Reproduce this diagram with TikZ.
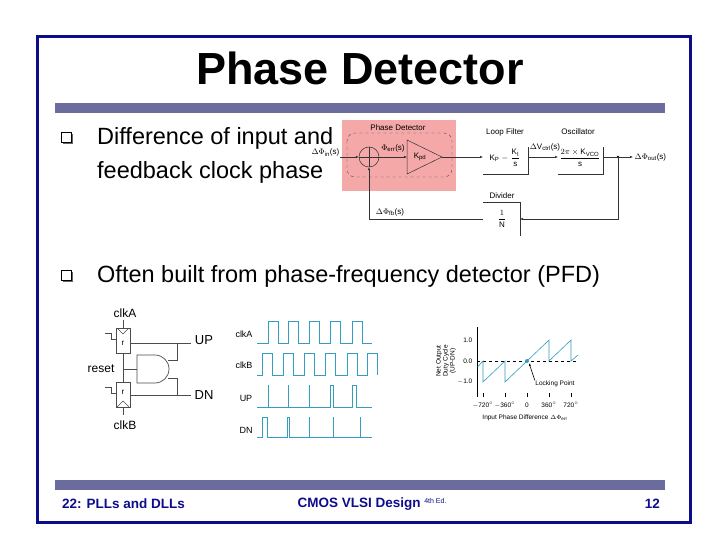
\documentclass[tikz,border=0pt]{standalone}
\usepackage{amsmath}
\usepackage{fontspec}
\setmainfont{Liberation Sans}
\usetikzlibrary{arrows.meta}
\definecolor{navy}{rgb}{0.05,0.05,0.55}
\definecolor{wave}{rgb}{0.2,0.62,0.75}
\definecolor{pinkbg}{rgb}{0.96,0.66,0.66}
\definecolor{barc}{rgb}{0.42,0.42,0.62}
\begin{document}
\begin{tikzpicture}[x=1pt,y=-1pt,
  tiny/.style={font=\fontsize{8}{9}\selectfont,inner sep=0.5pt},
  gtiny/.style={font=\fontsize{6.5}{7}\selectfont,inner sep=0.5pt},
  bl/.style={draw=black!80,line width=0.5pt},
  arr/.style={bl,-{Latex[length=3pt,width=2.5pt]}},
  wv/.style={wave,line width=0.7pt},
  ckt/.style={draw=black!70,line width=0.7pt},
  lbl/.style={font=\fontsize{12}{13}\selectfont,inner sep=0.5pt},
  wl/.style={font=\fontsize{9}{10}\selectfont,inner sep=0.5pt},
  bul/.style={font=\fontsize{23.5}{26}\selectfont,anchor=west,inner sep=0pt},
  foot/.style={font=\fontsize{13.5}{15}\selectfont\bfseries,text=navy,inner sep=0pt}]
\useasboundingbox (0,0) rectangle (720,540);
\fill[white] (0,0) rectangle (720,540);
\draw[navy,line width=3pt] (37,37) rectangle (690,522);
% title
\node[font=\fontsize{45}{48}\selectfont\bfseries] (title) at (360,68) {Phase Detector};
\fill[barc] (55,103) rectangle (665,113);
\fill[barc] (55,480) rectangle (665,490);
% bullets
\foreach \yy/\nm in {138/b1,276/b2}{
  \fill[black!60] (63,\yy-4) rectangle (73,\yy+6);
  \fill[white] (61,\yy-6) rectangle (71,\yy+4);
  \draw[black,line width=0.6pt] (61,\yy-6) rectangle (71,\yy+4);
}
\node[bul] (t1) at (97,138) {Difference of input and};
\node[bul] (t1b) at (97,172) {feedback clock phase};
\node[bul] (t2) at (97,276) {Often built from phase-frequency detector (PFD)};
% PLL block diagram
\fill[pinkbg] (342,120) rectangle (456,191);
\node[tiny] (pdt) at (398,128) {Phase Detector};
\draw[black!70,dashed,rounded corners=8pt,line width=0.4pt] (347,133) rectangle (452,177);
\node[bl,circle,minimum size=20pt,inner sep=0pt] (sum) at (369,157) {};
\draw[bl] (sum.north) -- (sum.south) (sum.west) -- (sum.east);
\coordinate (pdin) at (340,157);
\node[tiny,anchor=south east] (inl) at (340,157) {$\Delta\Phi_{\mathrm{in}}$(s)};
\draw[arr] (pdin) -- (sum.west);
\coordinate (tl) at (407,140); \coordinate (tb) at (407,174); \coordinate (tip) at (442,157);
\draw[bl] (tl) -- (tip) -- (tb) -- cycle;
\node[tiny] (kpd) at (420,157) {K$_{\mathrm{pd}}$};
\draw[arr] (sum.east) -- (407,157);
\node[tiny] (err) at (393,148) {$\Phi_{\mathrm{err}}$(s)};
\node[tiny] (lft) at (505,132) {Loop Filter};
\coordinate (lf) at (483,157);
\draw[bl] (483,174) -- (528,174) -- (528,147);
\node[tiny] (lfc) at (505,158) {K$_{\mathrm P}$ $-$ $\dfrac{\mathrm K_{\mathrm I}}{\mathrm s}$};
\draw[arr] (tip) -- (lf);
\node[tiny] (vc) at (545,147) {$\Delta$V$_{\mathrm{ctrl}}$(s)};
\node[tiny] (osct) at (578,132) {Oscillator};
\draw[bl] (558,174) -- (603,174) -- (603,147);
\node[tiny] (oscc) at (580,158) {$\dfrac{2\pi\times \mathrm K_{\mathrm{VCO}}}{\mathrm s}$};
\draw[arr] (528,157) -- (558,157);
\coordinate (dot) at (618,157);
\fill (dot) circle (1.3pt);
\draw[arr] (603,157) -- (633,157);
\node[tiny,anchor=west] (outl) at (634,157) {$\Delta\Phi_{\mathrm{out}}$(s)};
\node[tiny] (divt) at (502,196) {Divider};
\draw[bl] (483,202) -- (520,202) -- (520,236);
\node[tiny] (divc) at (502,219) {$\dfrac{1}{\mathrm N}$};
\draw[arr] (dot) -- (618,219) -- (520,219);
\draw[arr] (483,219) -- (369,219) -- (sum.south);
\node[tiny] (fbl) at (390,212) {$\Delta\Phi_{\mathrm{fb}}$(s)};
% PFD circuit
\node[lbl] (clka) at (125,313) {clkA};
\node[lbl] (clkb) at (125,425) {clkB};
\node[lbl] (rst) at (101,369) {reset};
\node[lbl,font=\fontsize{13}{14}\selectfont] (up) at (204,340) {UP};
\node[lbl,font=\fontsize{13}{14}\selectfont] (dn) at (204,395) {DN};
\draw[ckt] (116,328) rectangle (130,353);
\draw[ckt] (116,382) rectangle (130,407);
\draw[ckt] (117,328) -- (123,334) -- (129,328);
\draw[ckt] (117,407) -- (123,401) -- (129,407);
\node[lbl,font=\fontsize{8}{9}\selectfont] (r1) at (123,343) {r};
\node[lbl,font=\fontsize{8}{9}\selectfont] (r2) at (123,392) {r};
\draw[ckt] (123,320) -- (123,328);
\draw[ckt] (123,407) -- (123,415);
\draw[ckt] (105,333) -- (111,333) -- (111,339) -- (116,339);
\draw[ckt] (105,387) -- (111,387) -- (111,393) -- (116,393);
\draw[ckt] (123,353) -- (123,382);
\draw[ckt] (123,369) -- (137,369);
\draw[ckt] (137,355) -- (155,355) arc (-90:90:14) -- (137,383) -- cycle;
\draw[ckt] (130,343) -- (191,343);
\draw[ckt] (130,395) -- (191,395);
\draw[ckt] (177,343) -- (177,360) -- (168,360);
\draw[ckt] (177,395) -- (177,378) -- (168,378);
% waveforms
\node[wl] (wa) at (244,334) {clkA};
\node[wl] (wb) at (244,365) {clkB};
\node[wl] (wu) at (246,398) {UP};
\node[wl] (wd) at (246,430) {DN};
\draw[wv] (257,343) foreach \s in {268,288,309,330,352}{ -- (\s,343) -- (\s,321) -- (\s+10,321) -- (\s+10,343)} -- (372,343);
\draw[wv] (257,375) foreach \s in {262,283,304,325,347,367}{ -- (\s,375) -- (\s,353) -- (\s+10,353) -- (\s+10,375)} -- (377,375);
\draw[wv] (257,407) foreach \s/\w in {268/0.4,288/0.4,309/0.4,330/3,352/4}{ -- (\s,407) -- (\s,385) -- (\s+\w,385) -- (\s+\w,407)} -- (372,407);
\draw[wv] (257,437) foreach \s/\w in {262/5,287/2,309/0.4,333/0.4,360/0.4}{ -- (\s,437) -- (\s,417) -- (\s+\w,417) -- (\s+\w,437)} -- (372,437);
% graph
\draw[black,line width=0.5pt] (477,327) -- (477,397);
\foreach \v/\t in {-1/{$-$1.0},0/{0.0},1/{1.0}}{
  \node[gtiny,anchor=east] at (473,361-21*\v) {\t};}
\foreach \d/\t in {-720/{$-$720$^\circ$},-360/{$-$360$^\circ$},0/0,360/{360$^\circ$},720/{720$^\circ$}}{
  \draw[black,line width=0.5pt] (527+\d*22/360,393) -- (527+\d*22/360,397);
  \node[gtiny] at (527+\d*22/360,405) {\t};}
\draw[black,dashed,line width=0.6pt] (477,361) -- (578,361);
\draw[wave,line width=0.6pt] (477.5,367) -- (483,361) -- (483,382) -- (505,361) -- (505,382) -- (549,340) -- (549,361) -- (571,340) -- (571,361) -- (578,355);
\fill[wave] (527,361) circle (2pt);
\node[gtiny] (lp) at (555,384) {Locking Point};
\draw[-{Latex[length=3pt]},line width=0.6pt] (lp.north west) -- (529,363);
\node[gtiny,rotate=90,align=center] (yl) at (446,361) {Net Output\\Duty Cycle\\(UP-DN)};
\node[gtiny] (xl) at (525,418) {Input Phase Difference $\Delta\Phi_{\mathrm{err}}$};
% footer
\node[foot,anchor=west] (f1) at (62,504) {22: PLLs and DLLs};
\node[foot] (f2) at (372,504) {CMOS VLSI Design \raisebox{0.5ex}{\fontsize{7}{8}\selectfont\mdseries 4th Ed.}};
\node[foot,anchor=east] (f3) at (660,504) {12};
\end{tikzpicture}
\end{document}
